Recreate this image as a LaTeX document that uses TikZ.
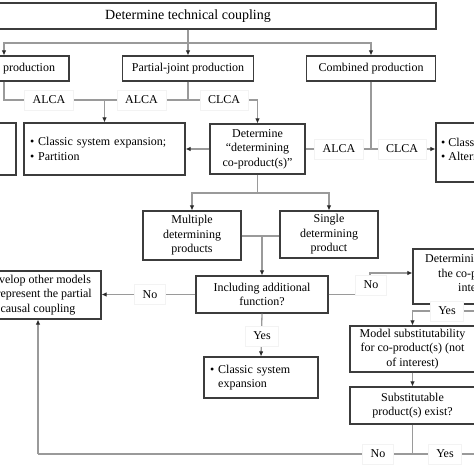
\documentclass[tikz,border=0pt]{standalone}
\usepackage{fontspec}
\setmainfont{Liberation Serif}
\usetikzlibrary{arrows.meta}
\definecolor{boxc}{HTML}{3C3C3C}
\definecolor{linec}{HTML}{9A9A9A}
\definecolor{tipc}{HTML}{2A2A2A}
\definecolor{labc}{HTML}{F3F3F3}
\begin{document}
\begin{tikzpicture}[x=1pt,y=-1pt,
 box/.style={draw=boxc, line width=1.1pt, fill=white, inner sep=0pt, align=center, font=\fontsize{12}{14.5}\selectfont},
 txt/.style={inner sep=0pt, font=\fontsize{12}{14.5}\selectfont},
 conn/.style={draw=linec, line width=1.3pt},
 arr/.style={conn, -{Latex[length=5pt,width=4.5pt,color=tipc]}},
 lab/.style={fill=white, draw=labc, line width=0.6pt, inner xsep=8pt, minimum height=20pt, font=\fontsize{12}{14.5}\selectfont}]
\useasboundingbox (0,0) rectangle (474,474);
\clip (0,0) rectangle (474,474);
\fill[white] (0,0) rectangle (474,474);
% boxes
\node[box, minimum width=496pt, minimum height=26pt, font=\fontsize{14}{16}\selectfont] (top) at (188,16) {Determine technical coupling};
\node[box, minimum height=25pt, text width=102pt, inner xsep=14pt, align=right] (prodL) at (4,68.5) {production};
\node[box, minimum width=131pt, minimum height=25pt] (pj) at (188,68.5) {Partial-joint production};
\node[box, minimum width=129pt, minimum height=25pt] (comb) at (371,68.5) {Combined production};
\node[box, minimum width=80pt, minimum height=52pt] (lbox) at (-24,149) {};
\node[box, minimum height=52pt, text width=149pt, inner xsep=6pt, align=left] (cse) at (104.5,149) {• Classic system expansion;\\• Partition};
\node[box, minimum width=95pt, minimum height=50pt] (det) at (257.5,149) {Determine\\“determining\\co-product(s)”};
\node[box, minimum width=160pt, minimum height=59pt] (rbox) at (516,152.5) {};
\node[txt, anchor=west, align=left] (rboxt) at (441,149.5) {• Classic system expansion;\\• Alternative};
\node[box, minimum width=98pt, minimum height=49pt] (mult) at (192,235.5) {Multiple\\determining\\products};
\node[box, minimum width=98pt, minimum height=47pt] (sing) at (329,234.5) {Single\\determining\\product};
\node[box, minimum width=132pt, minimum height=37pt] (incl) at (262,294.5) {Including additional\\function?};
\node[box, minimum width=126pt, minimum height=48pt] (dev) at (38,295) {Develop other models\\to represent the partial\\causal coupling};
\node[box, minimum height=41pt, text width=102pt, inner xsep=6pt, align=left] (cse2) at (261,377.5) {• Classic system\\\phantom{• }expansion};
\node[box, minimum width=140pt, minimum height=55pt] (dtm) at (483,276.5) {};
\node[txt, anchor=west, align=left] (dtmt) at (425,273) {Determining whether\\\hspace*{13pt}the co-product(s)\\\hspace*{33pt}interest};
\node[box, minimum width=125pt, minimum height=46pt] (model) at (412.5,349) {Model substitutability\\for co-product(s) (not\\of interest)};
\node[box, minimum width=125pt, minimum height=37pt] (subst) at (412.5,405.5) {Substitutable\\product(s) exist?};
% junctions
\coordinate (j1) at (188,43);
\coordinate (j2) at (104.5,100);
\coordinate (j3) at (257.5,100);
\coordinate (j4) at (371,149);
\coordinate (j5) at (257.5,193);
\coordinate (j6) at (262,236);
\coordinate (j7) at (370,273);
\coordinate (j8) at (412.5,311);
\coordinate (j9) at (412.5,454);
\coordinate (j10) at (38,454);
\coordinate (jR) at (490,454);
% connectors
\draw[conn] (top.south) -- (j1);
\draw[arr] (j1) -| (prodL.north);
\draw[arr] (j1) -- (pj.north);
\draw[arr] (j1) -| (comb.north);
\draw[conn] (prodL.south) |- (j2);
\draw[arr] (j2) -- (cse.north);
\draw[conn] (pj.south) |- (j2);
\draw[conn] (pj.south) |- (j3);
\draw[arr] (j3) -- (det.north);
\draw[arr] (det.west) -- (cse.east |- det.west);
\draw[conn] (comb.south) -- (j4);
\draw[conn] (j4) -- (det.east);
\draw[arr] (j4) -- (rbox.west |- j4);
\draw[conn] (det.south) -- (j5);
\draw[arr] (j5) -| (mult.north);
\draw[arr] (j5) -| (sing.north);
\draw[conn] (mult.east |- j6) -- (sing.west |- j6);
\draw[arr] (j6) -- (incl.north);
\draw[arr] (incl.west) -- (dev.east |- incl.west);
\draw[arr] (incl.east) -| (j7) -- (dtm.west |- j7);
\draw[arr] (incl.south) -- (cse2.north);
\draw[arr] (dtm.south) |- (j8) -- (model.north);
\draw[arr] (model.south) -- (subst.north);
\draw[conn] (subst.south) -- (j9);
\draw[conn] (j9) -- (jR);
\draw[conn] (j9) -- (j10);
\draw[arr] (j10) -- (dev.south);
% labels
\node[lab] (l1) at (49,100) {ALCA};
\node[lab] (l2) at (141.5,100) {ALCA};
\node[lab] (l3) at (224,100) {CLCA};
\node[lab] (l4) at (339,149) {ALCA};
\node[lab] (l5) at (402,149) {CLCA};
\node[lab] (l6) at (150,294.5) {No};
\node[lab] (l7) at (371,285) {No};
\node[lab] (l8) at (262,336) {Yes};
\node[lab] (l9) at (447,311) {Yes};
\node[lab] (l10) at (378,454) {No};
\node[lab] (l11) at (445,454) {Yes};
\end{tikzpicture}
\end{document}
